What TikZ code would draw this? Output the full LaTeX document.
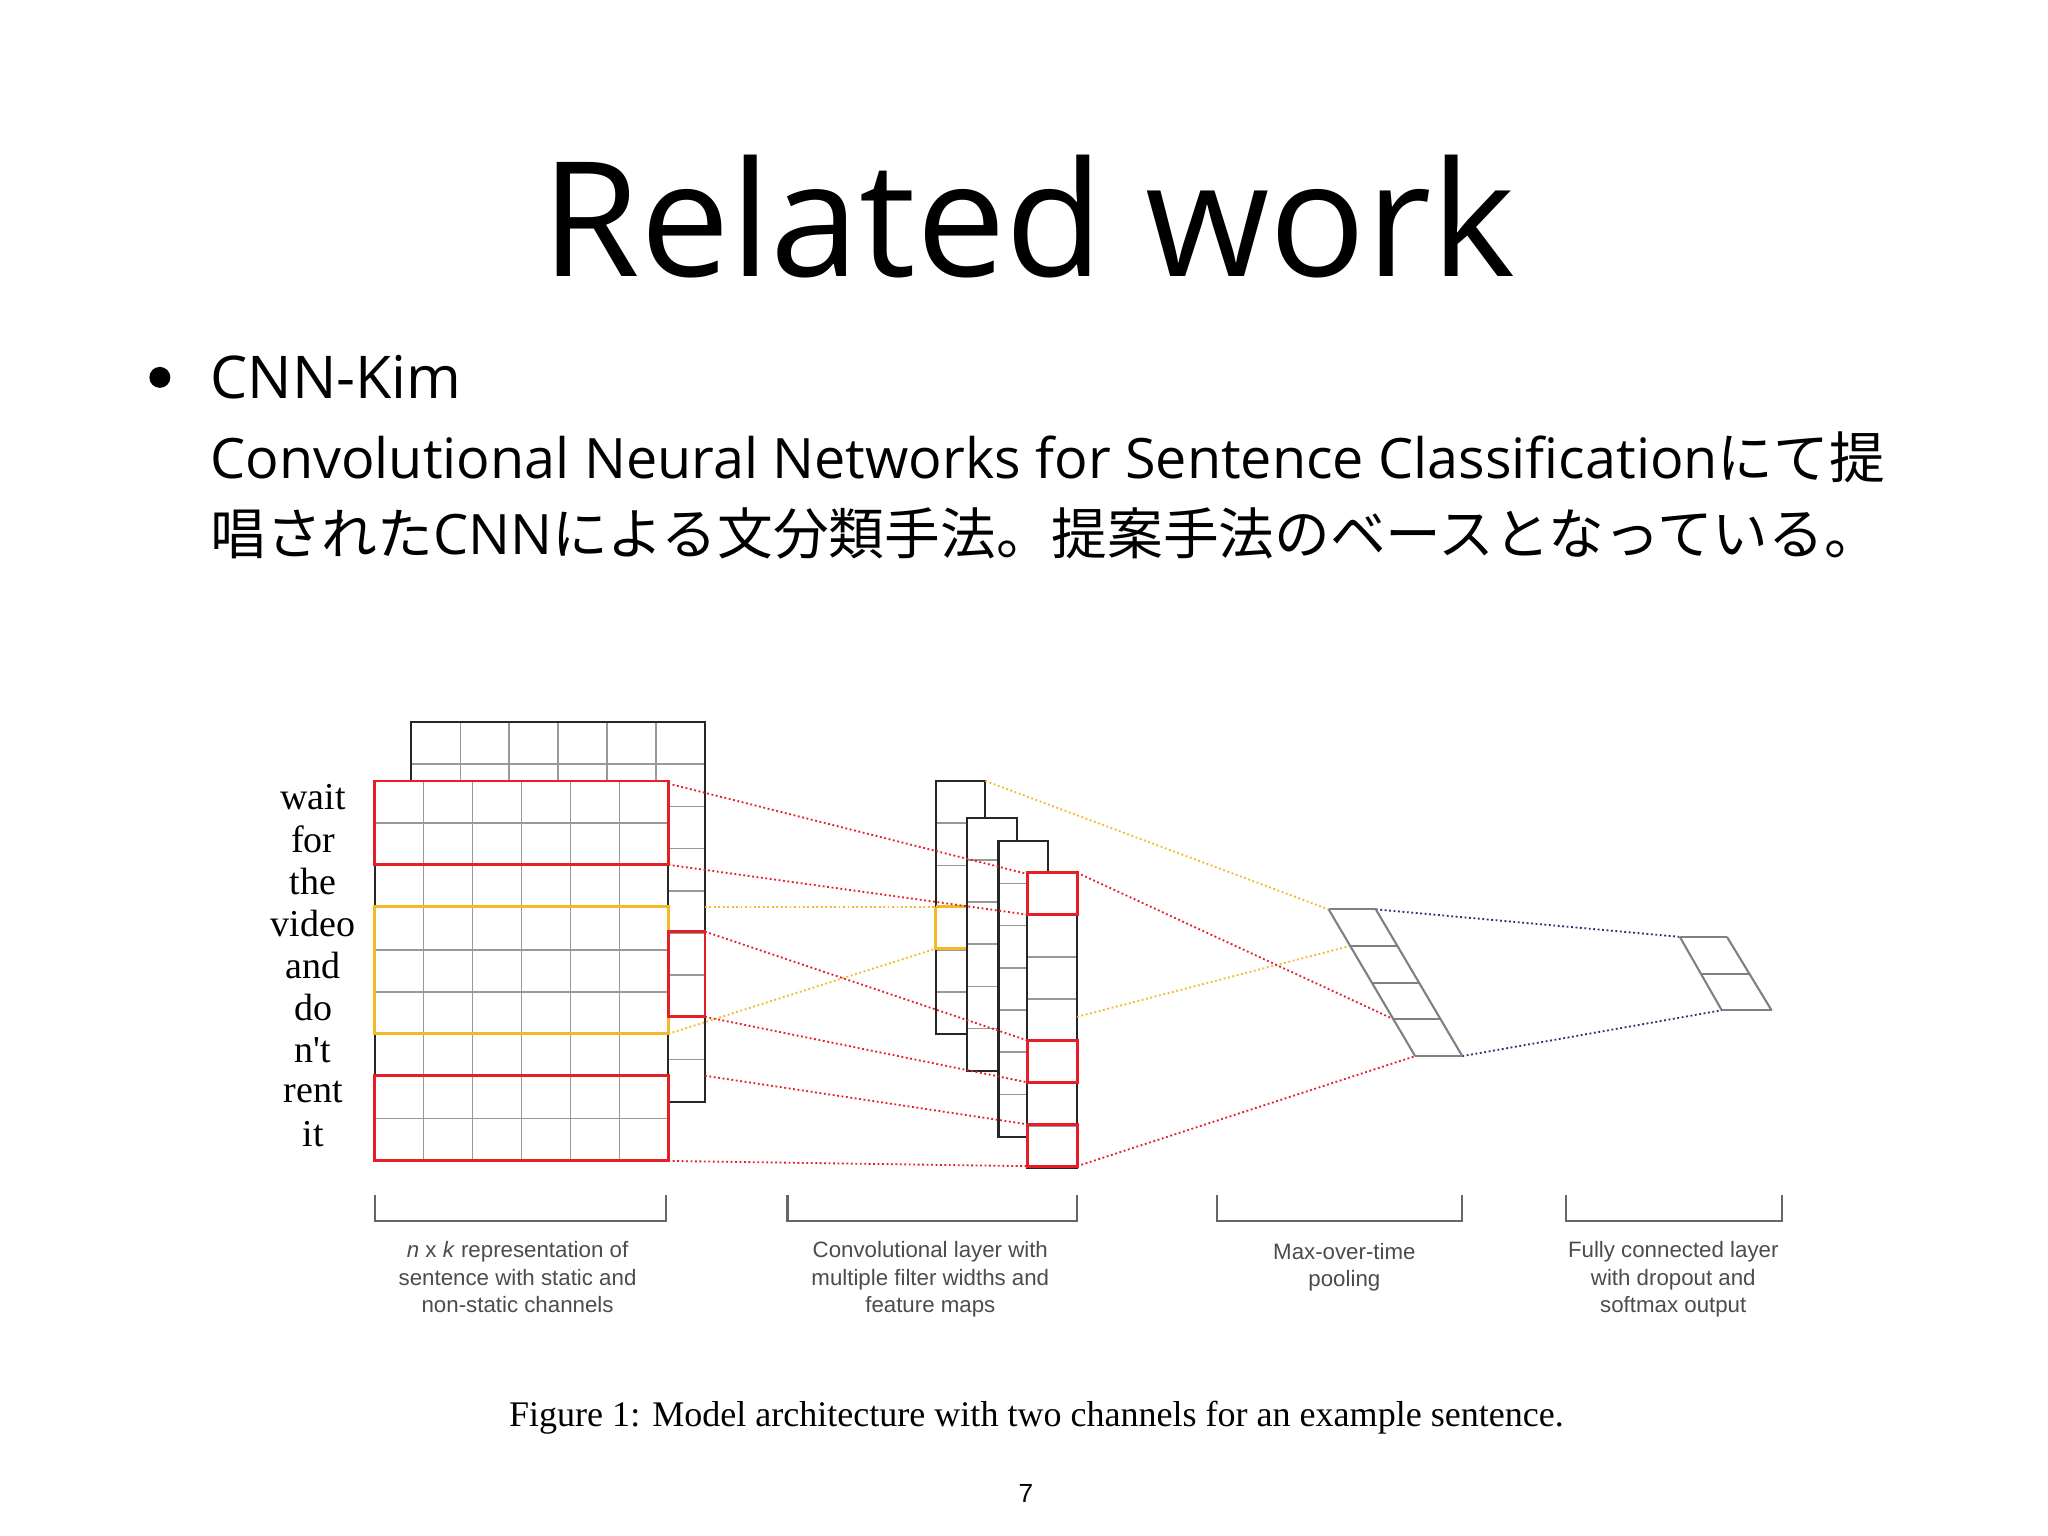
\documentclass[tikz,border=0pt]{standalone}
\usepackage{fontspec}
\setmainfont{Open Sans}
\newfontfamily\cjk{Noto Sans CJK JP}
\newfontfamily\lsans{Liberation Sans}
\newfontfamily\lserif{Liberation Serif}
\usetikzlibrary{calc}
\definecolor{kred}{RGB}{230,30,40}
\definecolor{kyel}{RGB}{245,185,40}
\definecolor{kblue}{RGB}{40,50,110}
\tikzset{
 grid/.style={draw=gray!80,line width=1.2pt},
 outl/.style={draw=black!85,line width=1.6pt},
 rbox/.style={draw=kred,line width=2.2pt},
 ybox/.style={draw=kyel,line width=2.2pt},
 rdot/.style={kred,dotted,line width=1.4pt},
 ydot/.style={kyel,dotted,line width=1.4pt},
 bdot/.style={kblue,dotted,line width=1.4pt},
 word/.style={font=\lserif\fontsize{29}{29}\selectfont,anchor=center},
 lab/.style={font=\lsans\fontsize{17}{21}\selectfont,text=black!70,align=center,anchor=north},
 brk/.style={draw=black!60,line width=1.6pt}
}
\begin{document}
\begin{tikzpicture}[x=1pt,y=-1pt]
\useasboundingbox[fill=white] (0,0) rectangle (1563,1172);
\node (title) at (785,165) {\fontsize{122}{122}\selectfont Related work};
\fill (122,288) circle (8);
\coordinate (bul) at (122,288);
\node[anchor=west] (cnn) at (157,288) {\fontsize{45}{45}\selectfont CNN-Kim};
\node[anchor=west] (l1) at (157,349) {\fontsize{42.5}{42.5}\selectfont Convolutional Neural Networks for Sentence Classification{\cjk にて提}};
\node[anchor=west] (l2) at (157,407) {\fontsize{42.5}{42.5}\selectfont{\cjk 唱された}CNN{\cjk による文分類手法。提案手法のベースとなっている。}};
% back channel
\fill[white] (314,551) rectangle (538,841);
\foreach \i in {1,...,8} \draw[grid] (314,551+32.2*\i) -- (538,551+32.2*\i);
\foreach \j in {1,...,5} \draw[grid] (314+37.33*\j,551) -- (314+37.33*\j,600);
\draw[outl] (314,551) rectangle (538,841);
% front channel
\fill[white] (286,596) rectangle (510,886);
\foreach \i in {1,...,8} \draw[grid] (286,596+32.2*\i) -- (510,596+32.2*\i);
\foreach \j in {1,...,5} \draw[grid] (286+37.33*\j,596) -- (286+37.33*\j,886);
\draw[outl] (286,596) rectangle (510,886);
\draw[rbox] (286,596) rectangle (510,660);
\draw[ybox] (286,692) rectangle (510,789);
\draw[rbox] (286,821) rectangle (510,886);
\draw[rbox] (510,711) rectangle (538,776);
\foreach \w [count=\k from 0] in {wait,for,the,video,and,do,n't,rent,it}
  \node[word] (w\k) at (239,608+32.2*\k) {\w};
% conv columns
\foreach \x/\y/\n in {714/596/6,738/624/6,762/642/7,784/666/7}{
  \fill[white] (\x,\y) rectangle (\x+38,\y+32.2*\n);
  \foreach \i in {1,...,\n} \draw[grid] (\x,\y+32.2*\i) -- (\x+38,\y+32.2*\i);
  \draw[outl] (\x,\y) rectangle (\x+38,\y+32.2*\n);
}
\draw[ybox] (714,692) -- (737,692) (714,692) -- (714,724) -- (737,724);
\draw[rbox] (784,666) rectangle (822,698);
\draw[rbox] (784,794) rectangle (822,826);
\draw[rbox] (784,858) rectangle (822,890);
% dotted links
\draw[rdot] (510,598) -- (784,667);
\draw[rdot] (510,660) -- (784,698);
\draw[ydot] (538,692) -- (714,692);
\draw[ydot] (510,789) -- (714,724);
\draw[rdot] (538,711) -- (784,794);
\draw[rdot] (538,776) -- (784,826);
\draw[rdot] (538,821) -- (784,858);
\draw[rdot] (510,886) -- (784,890);
\draw[ydot] (752,596) -- (1014,694);
\draw[ydot] (822,776) -- (1030,722);
\draw[rdot] (822,666) -- (1064,778);
\draw[rdot] (822,890) -- (1080,806);
\draw[bdot] (1050,694) -- (1282,715);
\draw[bdot] (1116,806) -- (1314,771);
% pooling
\foreach \i in {0,...,4} \draw[draw=gray,line width=1.6pt] (1014+16.5*\i,694+28*\i) -- (1050+16.5*\i,694+28*\i);
\draw[draw=gray,line width=1.6pt] (1014,694) -- (1080,806) (1050,694) -- (1116,806);
% fc
\foreach \i in {0,1,2} \draw[draw=gray,line width=1.6pt] (1282+16*\i,715+28*\i) -- (1318+17*\i,715+28*\i);
\draw[draw=gray,line width=1.6pt] (1282,715) -- (1314,771) (1318,715) -- (1352,771);
% brackets
\foreach \a/\b in {286/508,601/822,929/1116,1195/1360}
  \draw[brk] (\a,912) -- (\a,932) -- (\b,932) -- (\b,912);
\node[lab] (t1) at (395,944) {\textit{n} x \textit{k} representation of\\sentence with static and\\non-static channels};
\node[lab] (t2) at (710,944) {Convolutional layer with\\multiple filter widths and\\feature maps};
\node[lab] (t3) at (1026,945) {Max-over-time\\pooling};
\node[lab] (t4) at (1277,944) {Fully connected layer\\with dropout and\\softmax output};
\node (cap) at (791,1082) {\lserif\fontsize{27.5}{27.5}\selectfont Figure 1: Model architecture with two channels for an example sentence.};
\node (pg) at (783,1140) {\lsans\fontsize{20}{20}\selectfont 7};
\end{tikzpicture}
\end{document}
